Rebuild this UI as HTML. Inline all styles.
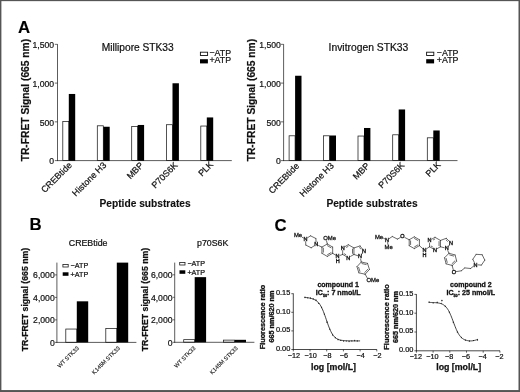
<!DOCTYPE html>
<html><head><meta charset="utf-8"><title>Figure</title>
<style>
html,body{margin:0;padding:0;background:#fff;}
svg{display:block;font-family:"Liberation Sans", Arial, Helvetica, sans-serif;}
#fig{filter:blur(0.35px);}
</style></head><body>
<svg width="520" height="392" viewBox="0 0 520 392">
<rect x="0" y="0" width="520" height="392" fill="#555"/>
<rect x="1.4" y="1.15" width="517.1" height="388.9" fill="#fff"/>
<g id="fig">
<text x="18" y="32.7" font-size="16.8" font-weight="bold" text-anchor="start" fill="#000" stroke="#000" stroke-width="0.12">A</text>
<text x="29.6" y="230.2" font-size="16.8" font-weight="bold" text-anchor="start" fill="#000" stroke="#000" stroke-width="0.12">B</text>
<text x="274.6" y="231.2" font-size="16.8" font-weight="bold" text-anchor="start" fill="#000" stroke="#000" stroke-width="0.12">C</text>
<rect x="62.80" y="121.39" width="6.00" height="39.21" fill="#fff" stroke="#1a1a1a" stroke-width="0.75"/>
<rect x="68.80" y="93.96" width="6.40" height="67.04" fill="#000"/>
<text x="72.4" y="165.8" font-size="8.9" text-anchor="end" fill="#111" transform="rotate(-45 72.4 165.8)" stroke="#111" stroke-width="0.22">CREBtide</text>
<rect x="97.30" y="125.80" width="6.00" height="34.79" fill="#fff" stroke="#1a1a1a" stroke-width="0.75"/>
<rect x="103.30" y="126.75" width="6.40" height="34.26" fill="#000"/>
<text x="106.9" y="165.8" font-size="8.9" text-anchor="end" fill="#111" transform="rotate(-45 106.9 165.8)" stroke="#111" stroke-width="0.22">Histone H3</text>
<rect x="131.70" y="126.42" width="6.00" height="34.17" fill="#fff" stroke="#1a1a1a" stroke-width="0.75"/>
<rect x="137.70" y="124.96" width="6.40" height="36.04" fill="#000"/>
<text x="144.0" y="165.8" font-size="8.9" text-anchor="end" fill="#111" transform="rotate(-45 144.0 165.8)" stroke="#111" stroke-width="0.22">MBP</text>
<rect x="166.50" y="124.72" width="6.00" height="35.88" fill="#fff" stroke="#1a1a1a" stroke-width="0.75"/>
<rect x="172.50" y="83.27" width="6.40" height="77.73" fill="#000"/>
<text x="178.2" y="165.8" font-size="8.9" text-anchor="end" fill="#111" transform="rotate(-45 178.2 165.8)" stroke="#111" stroke-width="0.22">P70S6K</text>
<rect x="200.80" y="126.04" width="6.00" height="34.56" fill="#fff" stroke="#1a1a1a" stroke-width="0.75"/>
<rect x="206.80" y="117.44" width="6.40" height="43.55" fill="#000"/>
<text x="213.8" y="165.0" font-size="8.9" text-anchor="end" fill="#111" transform="rotate(-45 213.8 165.0)" stroke="#111" stroke-width="0.22">PLK</text>
<line x1="57.5" y1="44.2" x2="57.5" y2="161.0" stroke="#1c1c1c" stroke-width="0.72"/>
<line x1="57.1" y1="160.6" x2="231.8" y2="160.6" stroke="#1c1c1c" stroke-width="0.72"/>
<line x1="54.8" y1="160.6" x2="57.5" y2="160.6" stroke="#1c1c1c" stroke-width="0.65"/>
<text transform="translate(54.1 164.3) scale(0.92 1)" font-size="9.4" text-anchor="end" fill="#111" stroke="#111" stroke-width="0.22">0</text>
<line x1="54.8" y1="121.85" x2="57.5" y2="121.85" stroke="#1c1c1c" stroke-width="0.65"/>
<text transform="translate(54.1 125.5) scale(0.92 1)" font-size="9.4" text-anchor="end" fill="#111" stroke="#111" stroke-width="0.22">500</text>
<line x1="54.8" y1="83.1" x2="57.5" y2="83.1" stroke="#1c1c1c" stroke-width="0.65"/>
<text transform="translate(54.1 86.8) scale(0.92 1)" font-size="9.4" text-anchor="end" fill="#111" stroke="#111" stroke-width="0.22">1,000</text>
<line x1="54.8" y1="44.35" x2="57.5" y2="44.35" stroke="#1c1c1c" stroke-width="0.65"/>
<text transform="translate(54.1 48.1) scale(0.92 1)" font-size="9.4" text-anchor="end" fill="#111" stroke="#111" stroke-width="0.22">1,500</text>
<text x="101.8" y="50.6" font-size="10.2" text-anchor="start" fill="#111" stroke="#111" stroke-width="0.22">Millipore STK33</text>
<rect x="200.40" y="52.20" width="7.20" height="3.30" fill="#fff" stroke="#111" stroke-width="0.9"/>
<rect x="200.00" y="59.20" width="7.90" height="4.20" fill="#000"/>
<text transform="translate(209.4 55.8) scale(0.93 1)" font-size="9.5" text-anchor="start" fill="#111" stroke="#111" stroke-width="0.22">−ATP</text>
<text transform="translate(209.4 63.3) scale(0.93 1)" font-size="9.5" text-anchor="start" fill="#111" stroke="#111" stroke-width="0.22">+ATP</text>
<text x="29.5" y="161.3" font-size="10.25" font-weight="bold" text-anchor="start" fill="#111" transform="rotate(-90 29.5 161.3)" stroke="#111" stroke-width="0.2">TR-FRET Signal (665 nm)</text>
<rect x="289.10" y="135.80" width="6.00" height="24.80" fill="#fff" stroke="#1a1a1a" stroke-width="0.75"/>
<rect x="295.10" y="75.75" width="6.40" height="85.25" fill="#000"/>
<text x="299.7" y="166.6" font-size="8.9" text-anchor="end" fill="#111" transform="rotate(-45 299.7 166.6)" stroke="#111" stroke-width="0.22">CREBtide</text>
<rect x="323.60" y="135.80" width="6.00" height="24.80" fill="#fff" stroke="#1a1a1a" stroke-width="0.75"/>
<rect x="329.60" y="135.50" width="6.40" height="25.50" fill="#000"/>
<text x="334.4" y="166.3" font-size="8.9" text-anchor="end" fill="#111" transform="rotate(-45 334.4 166.3)" stroke="#111" stroke-width="0.22">Histone H3</text>
<rect x="358.00" y="136.04" width="6.00" height="24.57" fill="#fff" stroke="#1a1a1a" stroke-width="0.75"/>
<rect x="364.00" y="127.98" width="6.40" height="33.02" fill="#000"/>
<text x="370.2" y="166.3" font-size="8.9" text-anchor="end" fill="#111" transform="rotate(-45 370.2 166.3)" stroke="#111" stroke-width="0.22">MBP</text>
<rect x="392.70" y="134.80" width="6.00" height="25.80" fill="#fff" stroke="#1a1a1a" stroke-width="0.75"/>
<rect x="398.70" y="109.46" width="6.40" height="51.54" fill="#000"/>
<text x="405.0" y="165.8" font-size="8.9" text-anchor="end" fill="#111" transform="rotate(-45 405.0 165.8)" stroke="#111" stroke-width="0.22">P70S6K</text>
<rect x="427.30" y="137.82" width="6.00" height="22.78" fill="#fff" stroke="#1a1a1a" stroke-width="0.75"/>
<rect x="433.30" y="130.47" width="6.40" height="30.54" fill="#000"/>
<text x="441.2" y="165.4" font-size="8.9" text-anchor="end" fill="#111" transform="rotate(-45 441.2 165.4)" stroke="#111" stroke-width="0.22">PLK</text>
<line x1="283.6" y1="44.2" x2="283.6" y2="161.0" stroke="#1c1c1c" stroke-width="0.72"/>
<line x1="283.20000000000005" y1="160.6" x2="457.5" y2="160.6" stroke="#1c1c1c" stroke-width="0.72"/>
<line x1="280.90000000000003" y1="160.6" x2="283.6" y2="160.6" stroke="#1c1c1c" stroke-width="0.65"/>
<text transform="translate(280.8 164.3) scale(0.92 1)" font-size="9.4" text-anchor="end" fill="#111" stroke="#111" stroke-width="0.22">0</text>
<line x1="280.90000000000003" y1="121.85" x2="283.6" y2="121.85" stroke="#1c1c1c" stroke-width="0.65"/>
<text transform="translate(280.8 125.5) scale(0.92 1)" font-size="9.4" text-anchor="end" fill="#111" stroke="#111" stroke-width="0.22">500</text>
<line x1="280.90000000000003" y1="83.1" x2="283.6" y2="83.1" stroke="#1c1c1c" stroke-width="0.65"/>
<text transform="translate(280.8 86.8) scale(0.92 1)" font-size="9.4" text-anchor="end" fill="#111" stroke="#111" stroke-width="0.22">1,000</text>
<line x1="280.90000000000003" y1="44.35" x2="283.6" y2="44.35" stroke="#1c1c1c" stroke-width="0.65"/>
<text transform="translate(280.8 48.1) scale(0.92 1)" font-size="9.4" text-anchor="end" fill="#111" stroke="#111" stroke-width="0.22">1,500</text>
<text x="328.6" y="50.6" font-size="10.32" text-anchor="start" fill="#111" stroke="#111" stroke-width="0.22">Invitrogen STK33</text>
<rect x="426.60" y="52.20" width="7.20" height="3.30" fill="#fff" stroke="#111" stroke-width="0.9"/>
<rect x="426.20" y="59.20" width="7.90" height="4.20" fill="#000"/>
<text transform="translate(436.8 55.8) scale(0.93 1)" font-size="9.5" text-anchor="start" fill="#111" stroke="#111" stroke-width="0.22">−ATP</text>
<text transform="translate(436.8 63.3) scale(0.93 1)" font-size="9.5" text-anchor="start" fill="#111" stroke="#111" stroke-width="0.22">+ATP</text>
<text x="255.0" y="161.3" font-size="10.25" font-weight="bold" text-anchor="start" fill="#111" transform="rotate(-90 255.0 161.3)" stroke="#111" stroke-width="0.2">TR-FRET Signal (665 nm)</text>
<text x="99.5" y="207.3" font-size="10.2" font-weight="bold" text-anchor="start" fill="#111" stroke="#111" stroke-width="0.12">Peptide substrates</text>
<text x="326.4" y="207.3" font-size="10.2" font-weight="bold" text-anchor="start" fill="#111" stroke="#111" stroke-width="0.12">Peptide substrates</text>
<rect x="65.80" y="329.05" width="11.00" height="13.25" fill="#fff" stroke="#1a1a1a" stroke-width="0.75"/>
<rect x="76.80" y="301.32" width="11.40" height="41.17" fill="#000"/>
<text x="79.4" y="348.6" font-size="5.7" text-anchor="end" fill="#222" transform="rotate(-45 79.4 348.6)" stroke="#222" stroke-width="0.12">WT STK33</text>
<rect x="105.80" y="328.62" width="11.00" height="13.67" fill="#fff" stroke="#1a1a1a" stroke-width="0.75"/>
<rect x="116.80" y="262.62" width="11.40" height="79.88" fill="#000"/>
<text x="120.4" y="348.6" font-size="5.7" text-anchor="end" fill="#222" transform="rotate(-45 120.4 348.6)" stroke="#222" stroke-width="0.12">K145M STK33</text>
<line x1="56.900000000000006" y1="262.6" x2="56.900000000000006" y2="342.8" stroke="#1c1c1c" stroke-width="0.72"/>
<line x1="56.5" y1="342.4" x2="136.4" y2="342.4" stroke="#1c1c1c" stroke-width="0.72"/>
<line x1="55.0" y1="342.4" x2="56.900000000000006" y2="342.4" stroke="#1c1c1c" stroke-width="0.65"/>
<text transform="translate(54.7 345.7) scale(0.94 1)" font-size="9.2" text-anchor="end" fill="#111" stroke="#111" stroke-width="0.22">0</text>
<line x1="55.0" y1="319.9" x2="56.900000000000006" y2="319.9" stroke="#1c1c1c" stroke-width="0.65"/>
<text transform="translate(54.7 323.2) scale(0.94 1)" font-size="9.2" text-anchor="end" fill="#111" stroke="#111" stroke-width="0.22">2,000</text>
<line x1="55.0" y1="297.4" x2="56.900000000000006" y2="297.4" stroke="#1c1c1c" stroke-width="0.65"/>
<text transform="translate(54.7 300.7) scale(0.94 1)" font-size="9.2" text-anchor="end" fill="#111" stroke="#111" stroke-width="0.22">4,000</text>
<line x1="55.0" y1="274.9" x2="56.900000000000006" y2="274.9" stroke="#1c1c1c" stroke-width="0.65"/>
<text transform="translate(54.7 278.2) scale(0.94 1)" font-size="9.2" text-anchor="end" fill="#111" stroke="#111" stroke-width="0.22">6,000</text>
<text x="68.8" y="245.5" font-size="8.8" text-anchor="start" fill="#111" stroke="#111" stroke-width="0.22">CREBtide</text>
<rect x="62.90" y="264.50" width="5.30" height="2.50" fill="#fff" stroke="#1a1a1a" stroke-width="0.8"/>
<rect x="62.70" y="272.30" width="5.80" height="3.50" fill="#000"/>
<text x="70.6" y="268.2" font-size="7.2" text-anchor="start" fill="#111" stroke="#111" stroke-width="0.22">−ATP</text>
<text x="70.6" y="276.6" font-size="7.2" text-anchor="start" fill="#111" stroke="#111" stroke-width="0.22">+ATP</text>
<text x="28.3" y="351.3" font-size="8.75" font-weight="bold" text-anchor="start" fill="#111" transform="rotate(-90 28.3 351.3)" stroke="#111" stroke-width="0.25">TR-FRET signal (665 nm)</text>
<rect x="183.70" y="339.66" width="11.00" height="2.54" fill="#fff" stroke="#1a1a1a" stroke-width="0.75"/>
<rect x="194.70" y="277.15" width="11.40" height="65.25" fill="#000"/>
<text x="196.0" y="348.6" font-size="5.7" text-anchor="end" fill="#222" transform="rotate(-45 196.0 348.6)" stroke="#222" stroke-width="0.12">WT STK33</text>
<rect x="223.60" y="340.11" width="11.00" height="2.09" fill="#fff" stroke="#1a1a1a" stroke-width="0.75"/>
<rect x="234.60" y="339.81" width="11.40" height="2.59" fill="#000"/>
<text x="238.3" y="348.6" font-size="5.7" text-anchor="end" fill="#222" transform="rotate(-45 238.3 348.6)" stroke="#222" stroke-width="0.12">K145M STK33</text>
<line x1="174.7" y1="262.6" x2="174.7" y2="342.7" stroke="#1c1c1c" stroke-width="0.72"/>
<line x1="174.3" y1="342.29999999999995" x2="254.4" y2="342.29999999999995" stroke="#1c1c1c" stroke-width="0.72"/>
<line x1="172.8" y1="342.29999999999995" x2="174.7" y2="342.29999999999995" stroke="#1c1c1c" stroke-width="0.65"/>
<text transform="translate(172.5 345.6) scale(0.94 1)" font-size="9.2" text-anchor="end" fill="#111" stroke="#111" stroke-width="0.22">0</text>
<line x1="172.8" y1="319.79999999999995" x2="174.7" y2="319.79999999999995" stroke="#1c1c1c" stroke-width="0.65"/>
<text transform="translate(172.5 323.1) scale(0.94 1)" font-size="9.2" text-anchor="end" fill="#111" stroke="#111" stroke-width="0.22">2,000</text>
<line x1="172.8" y1="297.29999999999995" x2="174.7" y2="297.29999999999995" stroke="#1c1c1c" stroke-width="0.65"/>
<text transform="translate(172.5 300.6) scale(0.94 1)" font-size="9.2" text-anchor="end" fill="#111" stroke="#111" stroke-width="0.22">4,000</text>
<line x1="172.8" y1="274.79999999999995" x2="174.7" y2="274.79999999999995" stroke="#1c1c1c" stroke-width="0.65"/>
<text transform="translate(172.5 278.1) scale(0.94 1)" font-size="9.2" text-anchor="end" fill="#111" stroke="#111" stroke-width="0.22">6,000</text>
<text x="197.0" y="245.5" font-size="8.8" text-anchor="start" fill="#111" stroke="#111" stroke-width="0.22">p70S6K</text>
<rect x="179.70" y="262.50" width="5.30" height="2.50" fill="#fff" stroke="#1a1a1a" stroke-width="0.8"/>
<rect x="179.50" y="270.30" width="5.80" height="3.50" fill="#000"/>
<text x="187.4" y="266.2" font-size="7.2" text-anchor="start" fill="#111" stroke="#111" stroke-width="0.22">−ATP</text>
<text x="187.4" y="274.6" font-size="7.2" text-anchor="start" fill="#111" stroke="#111" stroke-width="0.22">+ATP</text>
<text x="148.0" y="351.3" font-size="8.75" font-weight="bold" text-anchor="start" fill="#111" transform="rotate(-90 148.0 351.3)" stroke="#111" stroke-width="0.25">TR-FRET signal (665 nm)</text>
<line x1="293.3" y1="293.4" x2="293.3" y2="349.85" stroke="#1c1c1c" stroke-width="0.8"/>
<line x1="292.90000000000003" y1="349.5" x2="376.9" y2="349.5" stroke="#1c1c1c" stroke-width="0.8"/>
<line x1="291.3" y1="349.5" x2="293.3" y2="349.5" stroke="#1c1c1c" stroke-width="0.7"/>
<text x="290.3" y="350.8" font-size="7.4" text-anchor="end" fill="#111" stroke="#111" stroke-width="0.22">0.00</text>
<line x1="291.3" y1="330.9" x2="293.3" y2="330.9" stroke="#1c1c1c" stroke-width="0.7"/>
<text x="290.3" y="332.2" font-size="7.4" text-anchor="end" fill="#111" stroke="#111" stroke-width="0.22">0.05</text>
<line x1="291.3" y1="312.3" x2="293.3" y2="312.3" stroke="#1c1c1c" stroke-width="0.7"/>
<text x="290.3" y="313.6" font-size="7.4" text-anchor="end" fill="#111" stroke="#111" stroke-width="0.22">0.10</text>
<line x1="291.3" y1="293.7" x2="293.3" y2="293.7" stroke="#1c1c1c" stroke-width="0.7"/>
<text x="290.3" y="295.0" font-size="7.4" text-anchor="end" fill="#111" stroke="#111" stroke-width="0.22">0.15</text>
<line x1="293.3" y1="349.5" x2="293.3" y2="351.4" stroke="#1c1c1c" stroke-width="0.7"/>
<text x="293.9" y="357.9" font-size="7.25" text-anchor="middle" fill="#111" stroke="#111" stroke-width="0.22">−12</text>
<line x1="310.0" y1="349.5" x2="310.0" y2="351.4" stroke="#1c1c1c" stroke-width="0.7"/>
<text x="310.6" y="357.9" font-size="7.25" text-anchor="middle" fill="#111" stroke="#111" stroke-width="0.22">−10</text>
<line x1="326.7" y1="349.5" x2="326.7" y2="351.4" stroke="#1c1c1c" stroke-width="0.7"/>
<text x="327.3" y="357.9" font-size="7.25" text-anchor="middle" fill="#111" stroke="#111" stroke-width="0.22">−8</text>
<line x1="343.4" y1="349.5" x2="343.4" y2="351.4" stroke="#1c1c1c" stroke-width="0.7"/>
<text x="344.0" y="357.9" font-size="7.25" text-anchor="middle" fill="#111" stroke="#111" stroke-width="0.22">−6</text>
<line x1="360.1" y1="349.5" x2="360.1" y2="351.4" stroke="#1c1c1c" stroke-width="0.7"/>
<text x="360.7" y="357.9" font-size="7.25" text-anchor="middle" fill="#111" stroke="#111" stroke-width="0.22">−4</text>
<line x1="376.8" y1="349.5" x2="376.8" y2="351.4" stroke="#1c1c1c" stroke-width="0.7"/>
<text x="377.4" y="357.9" font-size="7.25" text-anchor="middle" fill="#111" stroke="#111" stroke-width="0.22">−2</text>
<text x="311.0" y="369.9" font-size="8.8" font-weight="bold" text-anchor="start" fill="#111" stroke="#111" stroke-width="0.25">log [mol/L]</text>
<text x="265.3" y="317.0" font-size="7.25" font-weight="bold" text-anchor="middle" fill="#111" transform="rotate(-90 265.3 317.0)" stroke="#111" stroke-width="0.3">Fluorescence ratio</text>
<text x="273.9" y="316.5" font-size="7.25" font-weight="bold" text-anchor="middle" fill="#111" transform="rotate(-90 273.9 316.5)" stroke="#111" stroke-width="0.3">665 nm/620 nm</text>
<text x="338.2" y="286.9" font-size="7.0" font-weight="bold" text-anchor="middle" fill="#111" stroke="#111" stroke-width="0.3">compound 1</text>
<text x="338.2" y="295.3" font-size="7.1" font-weight="bold" text-anchor="middle" fill="#111" stroke="#111" stroke-width="0.3">IC<tspan font-size="3.8" dy="2.0">50</tspan><tspan dy="-2.0">: 7 nmol/L</tspan></text>
<line x1="416.4" y1="294.09999999999997" x2="416.4" y2="351.15000000000003" stroke="#1c1c1c" stroke-width="0.8"/>
<line x1="416.0" y1="350.8" x2="500.0" y2="350.8" stroke="#1c1c1c" stroke-width="0.8"/>
<line x1="414.4" y1="350.8" x2="416.4" y2="350.8" stroke="#1c1c1c" stroke-width="0.7"/>
<text x="413.4" y="352.1" font-size="7.4" text-anchor="end" fill="#111" stroke="#111" stroke-width="0.22">0.00</text>
<line x1="414.4" y1="332.0" x2="416.4" y2="332.0" stroke="#1c1c1c" stroke-width="0.7"/>
<text x="413.4" y="333.3" font-size="7.4" text-anchor="end" fill="#111" stroke="#111" stroke-width="0.22">0.05</text>
<line x1="414.4" y1="313.2" x2="416.4" y2="313.2" stroke="#1c1c1c" stroke-width="0.7"/>
<text x="413.4" y="314.5" font-size="7.4" text-anchor="end" fill="#111" stroke="#111" stroke-width="0.22">0.10</text>
<line x1="414.4" y1="294.4" x2="416.4" y2="294.4" stroke="#1c1c1c" stroke-width="0.7"/>
<text x="413.4" y="295.7" font-size="7.4" text-anchor="end" fill="#111" stroke="#111" stroke-width="0.22">0.15</text>
<line x1="416.4" y1="350.8" x2="416.4" y2="352.7" stroke="#1c1c1c" stroke-width="0.7"/>
<text x="415.8" y="359.0" font-size="7.25" text-anchor="middle" fill="#111" stroke="#111" stroke-width="0.22">−12</text>
<line x1="433.09999999999997" y1="350.8" x2="433.09999999999997" y2="352.7" stroke="#1c1c1c" stroke-width="0.7"/>
<text x="432.5" y="359.0" font-size="7.25" text-anchor="middle" fill="#111" stroke="#111" stroke-width="0.22">−10</text>
<line x1="449.79999999999995" y1="350.8" x2="449.79999999999995" y2="352.7" stroke="#1c1c1c" stroke-width="0.7"/>
<text x="449.2" y="359.0" font-size="7.25" text-anchor="middle" fill="#111" stroke="#111" stroke-width="0.22">−8</text>
<line x1="466.5" y1="350.8" x2="466.5" y2="352.7" stroke="#1c1c1c" stroke-width="0.7"/>
<text x="465.9" y="359.0" font-size="7.25" text-anchor="middle" fill="#111" stroke="#111" stroke-width="0.22">−6</text>
<line x1="483.2" y1="350.8" x2="483.2" y2="352.7" stroke="#1c1c1c" stroke-width="0.7"/>
<text x="482.6" y="359.0" font-size="7.25" text-anchor="middle" fill="#111" stroke="#111" stroke-width="0.22">−4</text>
<line x1="499.9" y1="350.8" x2="499.9" y2="352.7" stroke="#1c1c1c" stroke-width="0.7"/>
<text x="499.3" y="359.0" font-size="7.25" text-anchor="middle" fill="#111" stroke="#111" stroke-width="0.22">−2</text>
<text x="436.2" y="370.1" font-size="8.8" font-weight="bold" text-anchor="start" fill="#111" stroke="#111" stroke-width="0.25">log [mol/L]</text>
<text x="389.1" y="316.9" font-size="7.36" font-weight="bold" text-anchor="middle" fill="#111" transform="rotate(-90 389.1 316.9)" stroke="#111" stroke-width="0.3">Fluorescence ratio</text>
<text x="397.9" y="317.0" font-size="7.25" font-weight="bold" text-anchor="middle" fill="#111" transform="rotate(-90 397.9 317.0)" stroke="#111" stroke-width="0.3">665 nm/620 nm</text>
<text x="470.8" y="286.9" font-size="7.0" font-weight="bold" text-anchor="middle" fill="#111" stroke="#111" stroke-width="0.3">compound 2</text>
<text x="470.8" y="295.3" font-size="7.1" font-weight="bold" text-anchor="middle" fill="#111" stroke="#111" stroke-width="0.3">IC<tspan font-size="3.8" dy="2.0">50</tspan><tspan dy="-2.0">: 25 nmol/L</tspan></text>
<path d="M304.99,297.37 L305.67,297.46 L306.36,297.55 L307.04,297.64 L307.72,297.74 L308.41,297.85 L309.09,297.97 L309.78,298.11 L310.46,298.26 L311.14,298.42 L311.83,298.61 L312.51,298.82 L313.19,299.06 L313.88,299.33 L314.56,299.65 L315.24,300.02 L315.93,300.44 L316.61,300.93 L317.30,301.50 L317.98,302.15 L318.66,302.90 L319.35,303.76 L320.03,304.74 L320.71,305.85 L321.40,307.10 L322.08,308.48 L322.77,310.01 L323.45,311.66 L324.13,313.44 L324.82,315.31 L325.50,317.26 L326.18,319.25 L326.87,321.25 L327.55,323.22 L328.23,325.13 L328.92,326.95 L329.60,328.66 L330.29,330.24 L330.97,331.68 L331.65,332.97 L332.34,334.12 L333.02,335.13 L333.70,336.02 L334.39,336.78 L335.07,337.43 L335.75,338.00 L336.44,338.47 L337.12,338.87 L337.81,339.21 L338.49,339.50 L339.17,339.74 L339.86,339.94 L340.54,340.10 L341.22,340.24 L341.91,340.36 L342.59,340.45 L343.27,340.53 L343.96,340.60 L344.64,340.65 L345.33,340.70 L346.01,340.74 L346.69,340.77 L347.38,340.79 L348.06,340.82 L348.74,340.83 L349.43,340.85 L350.11,340.86 L350.79,340.87 L351.48,340.88 L352.16,340.89 L352.85,340.89 L353.53,340.90 L354.21,340.90 L354.90,340.90 L355.58,340.91 L356.26,340.91 L356.95,340.91 L357.63,340.91 L358.32,340.91 L359.00,340.91 L359.68,340.91" fill="none" stroke="#111" stroke-width="0.8" stroke-linecap="round"/>
<circle cx="304.99" cy="297.42" r="0.6" fill="#111"/>
<line x1="304.99" y1="296.42" x2="304.99" y2="298.42" stroke="#333" stroke-width="0.35"/>
<circle cx="307.75" cy="297.80" r="0.6" fill="#111"/>
<circle cx="310.50" cy="298.08" r="0.6" fill="#111"/>
<line x1="310.50" y1="297.08" x2="310.50" y2="299.08" stroke="#333" stroke-width="0.35"/>
<circle cx="313.26" cy="298.89" r="0.6" fill="#111"/>
<circle cx="316.01" cy="300.18" r="0.6" fill="#111"/>
<line x1="316.01" y1="299.18" x2="316.01" y2="301.18" stroke="#333" stroke-width="0.35"/>
<circle cx="318.77" cy="303.42" r="0.6" fill="#111"/>
<circle cx="321.52" cy="307.50" r="0.6" fill="#111"/>
<line x1="321.52" y1="306.50" x2="321.52" y2="308.50" stroke="#333" stroke-width="0.35"/>
<circle cx="324.28" cy="314.00" r="0.6" fill="#111"/>
<circle cx="327.03" cy="322.17" r="0.6" fill="#111"/>
<line x1="327.03" y1="321.17" x2="327.03" y2="323.17" stroke="#333" stroke-width="0.35"/>
<circle cx="329.79" cy="329.08" r="0.6" fill="#111"/>
<circle cx="332.55" cy="334.82" r="0.6" fill="#111"/>
<line x1="332.55" y1="333.82" x2="332.55" y2="335.82" stroke="#333" stroke-width="0.35"/>
<circle cx="335.30" cy="337.69" r="0.6" fill="#111"/>
<circle cx="338.06" cy="339.56" r="0.6" fill="#111"/>
<line x1="338.06" y1="338.56" x2="338.06" y2="340.56" stroke="#333" stroke-width="0.35"/>
<circle cx="340.81" cy="340.42" r="0.6" fill="#111"/>
<circle cx="343.57" cy="340.99" r="0.6" fill="#111"/>
<line x1="343.57" y1="339.99" x2="343.57" y2="341.99" stroke="#333" stroke-width="0.35"/>
<circle cx="346.32" cy="341.02" r="0.6" fill="#111"/>
<circle cx="349.08" cy="341.33" r="0.6" fill="#111"/>
<line x1="349.08" y1="340.33" x2="349.08" y2="342.33" stroke="#333" stroke-width="0.35"/>
<circle cx="351.83" cy="340.93" r="0.6" fill="#111"/>
<circle cx="354.59" cy="340.56" r="0.6" fill="#111"/>
<line x1="354.59" y1="339.56" x2="354.59" y2="341.56" stroke="#333" stroke-width="0.35"/>
<circle cx="357.34" cy="340.93" r="0.6" fill="#111"/>
<path d="M429.12,302.44 L429.73,302.45 L430.34,302.46 L430.94,302.47 L431.55,302.49 L432.15,302.50 L432.76,302.53 L433.36,302.55 L433.97,302.58 L434.57,302.61 L435.18,302.65 L435.78,302.70 L436.39,302.75 L436.99,302.82 L437.60,302.89 L438.21,302.98 L438.81,303.09 L439.42,303.21 L440.02,303.36 L440.63,303.53 L441.23,303.73 L441.84,303.96 L442.44,304.23 L443.05,304.55 L443.65,304.91 L444.26,305.34 L444.86,305.82 L445.47,306.38 L446.08,307.02 L446.68,307.75 L447.29,308.57 L447.89,309.49 L448.50,310.51 L449.10,311.63 L449.71,312.86 L450.31,314.19 L450.92,315.60 L451.52,317.10 L452.13,318.65 L452.73,320.25 L453.34,321.88 L453.95,323.50 L454.55,325.10 L455.16,326.66 L455.76,328.15 L456.37,329.57 L456.97,330.89 L457.58,332.12 L458.18,333.25 L458.79,334.27 L459.39,335.18 L460.00,336.00 L460.60,336.73 L461.21,337.37 L461.82,337.93 L462.42,338.42 L463.03,338.84 L463.63,339.21 L464.24,339.52 L464.84,339.79 L465.45,340.03 L466.05,340.23 L466.66,340.40 L467.26,340.54 L467.87,340.67 L468.47,340.77 L469.08,340.85 L469.69,340.90 L470.29,340.92 L470.90,340.92 L471.50,340.89 L472.11,340.83 L472.71,340.76 L473.32,340.66 L473.92,340.55 L474.53,340.41 L475.13,340.26 L475.74,340.08 L476.34,339.89 L476.95,339.68 L477.56,339.45" fill="none" stroke="#111" stroke-width="0.8" stroke-linecap="round"/>
<circle cx="429.12" cy="302.08" r="0.6" fill="#111"/>
<line x1="429.12" y1="301.08" x2="429.12" y2="303.08" stroke="#333" stroke-width="0.35"/>
<circle cx="433.16" cy="302.90" r="0.6" fill="#111"/>
<circle cx="437.19" cy="302.45" r="0.6" fill="#111"/>
<line x1="437.19" y1="301.45" x2="437.19" y2="303.45" stroke="#333" stroke-width="0.35"/>
<circle cx="441.22" cy="303.23" r="0.6" fill="#111"/>
<circle cx="445.26" cy="306.32" r="0.6" fill="#111"/>
<line x1="445.26" y1="305.32" x2="445.26" y2="307.32" stroke="#333" stroke-width="0.35"/>
<circle cx="449.29" cy="312.06" r="0.6" fill="#111"/>
<circle cx="453.32" cy="322.25" r="0.6" fill="#111"/>
<line x1="453.32" y1="321.25" x2="453.32" y2="323.25" stroke="#333" stroke-width="0.35"/>
<circle cx="457.36" cy="332.08" r="0.6" fill="#111"/>
<circle cx="461.39" cy="337.50" r="0.6" fill="#111"/>
<line x1="461.39" y1="336.50" x2="461.39" y2="338.50" stroke="#333" stroke-width="0.35"/>
<circle cx="465.42" cy="340.05" r="0.6" fill="#111"/>
<circle cx="469.46" cy="341.02" r="0.6" fill="#111"/>
<line x1="469.46" y1="340.02" x2="469.46" y2="342.02" stroke="#333" stroke-width="0.35"/>
<circle cx="473.49" cy="340.48" r="0.6" fill="#111"/>
<circle cx="477.52" cy="339.89" r="0.6" fill="#111"/>
<line x1="477.52" y1="338.89" x2="477.52" y2="340.89" stroke="#333" stroke-width="0.35"/>
<circle cx="441.9" cy="300.6" r="0.8" fill="#222"/>
<line x1="314.03" y1="245.93" x2="311.18" y2="247.79" stroke="#2a2a2a" stroke-width="0.7" stroke-linecap="round"/>
<line x1="311.18" y1="247.79" x2="305.83" y2="245.09" stroke="#2a2a2a" stroke-width="0.7" stroke-linecap="round"/>
<line x1="305.83" y1="245.09" x2="305.64" y2="241.69" stroke="#2a2a2a" stroke-width="0.7" stroke-linecap="round"/>
<line x1="307.67" y1="237.67" x2="310.52" y2="235.81" stroke="#2a2a2a" stroke-width="0.7" stroke-linecap="round"/>
<line x1="310.52" y1="235.81" x2="315.87" y2="238.51" stroke="#2a2a2a" stroke-width="0.7" stroke-linecap="round"/>
<line x1="315.87" y1="238.51" x2="316.06" y2="241.91" stroke="#2a2a2a" stroke-width="0.7" stroke-linecap="round"/>
<text x="316.21" y="246.49" font-size="5.5" text-anchor="middle" fill="#181818" stroke="#181818" stroke-width="0.38">N</text>
<text x="305.49" y="241.07" font-size="5.5" text-anchor="middle" fill="#181818" stroke="#181818" stroke-width="0.38">N</text>
<text x="293.9" y="237.3" font-size="5.9" text-anchor="start" fill="#181818" stroke="#181818" stroke-width="0.3">Me</text>
<line x1="302.20" y1="237.30" x2="303.21" y2="237.85" stroke="#2a2a2a" stroke-width="0.7" stroke-linecap="round"/>
<line x1="327.30" y1="244.00" x2="332.67" y2="247.10" stroke="#2a2a2a" stroke-width="0.7" stroke-linecap="round"/>
<line x1="332.67" y1="247.10" x2="332.67" y2="253.30" stroke="#2a2a2a" stroke-width="0.7" stroke-linecap="round"/>
<line x1="332.67" y1="253.30" x2="327.30" y2="256.40" stroke="#2a2a2a" stroke-width="0.7" stroke-linecap="round"/>
<line x1="327.30" y1="256.40" x2="321.93" y2="253.30" stroke="#2a2a2a" stroke-width="0.7" stroke-linecap="round"/>
<line x1="321.93" y1="253.30" x2="321.93" y2="247.10" stroke="#2a2a2a" stroke-width="0.7" stroke-linecap="round"/>
<line x1="321.93" y1="247.10" x2="327.30" y2="244.00" stroke="#2a2a2a" stroke-width="0.7" stroke-linecap="round"/>
<line x1="327.55" y1="245.76" x2="331.02" y2="247.76" stroke="#2a2a2a" stroke-width="0.7" stroke-linecap="round"/>
<line x1="331.02" y1="252.64" x2="327.55" y2="254.64" stroke="#2a2a2a" stroke-width="0.7" stroke-linecap="round"/>
<line x1="323.33" y1="252.20" x2="323.33" y2="248.20" stroke="#2a2a2a" stroke-width="0.7" stroke-linecap="round"/>
<line x1="318.57" y1="245.58" x2="321.93" y2="247.10" stroke="#2a2a2a" stroke-width="0.7" stroke-linecap="round"/>
<text x="323.2" y="240.2" font-size="5.9" text-anchor="start" fill="#181818" stroke="#181818" stroke-width="0.3">OMe</text>
<line x1="327.30" y1="244.00" x2="326.51" y2="240.73" stroke="#2a2a2a" stroke-width="0.7" stroke-linecap="round"/>
<line x1="332.67" y1="253.30" x2="335.38" y2="254.95" stroke="#2a2a2a" stroke-width="0.7" stroke-linecap="round"/>
<text x="337.60" y="258.28" font-size="5.5" text-anchor="middle" fill="#181818" stroke="#181818" stroke-width="0.38">N</text>
<text x="337.70" y="263.38" font-size="5.5" text-anchor="middle" fill="#181818" stroke="#181818" stroke-width="0.38">H</text>
<line x1="348.30" y1="244.70" x2="353.93" y2="247.95" stroke="#2a2a2a" stroke-width="0.7" stroke-linecap="round"/>
<line x1="353.93" y1="247.95" x2="353.93" y2="254.45" stroke="#2a2a2a" stroke-width="0.7" stroke-linecap="round"/>
<line x1="353.93" y1="254.45" x2="350.55" y2="256.40" stroke="#2a2a2a" stroke-width="0.7" stroke-linecap="round"/>
<line x1="346.05" y1="256.40" x2="342.67" y2="254.45" stroke="#2a2a2a" stroke-width="0.7" stroke-linecap="round"/>
<line x1="342.67" y1="254.45" x2="342.67" y2="250.55" stroke="#2a2a2a" stroke-width="0.7" stroke-linecap="round"/>
<line x1="344.92" y1="246.65" x2="348.30" y2="244.70" stroke="#2a2a2a" stroke-width="0.7" stroke-linecap="round"/>
<line x1="346.58" y1="247.31" x2="348.05" y2="246.46" stroke="#2a2a2a" stroke-width="0.7" stroke-linecap="round"/>
<line x1="352.53" y1="249.05" x2="352.53" y2="253.35" stroke="#2a2a2a" stroke-width="0.7" stroke-linecap="round"/>
<line x1="345.80" y1="254.64" x2="344.32" y2="253.79" stroke="#2a2a2a" stroke-width="0.7" stroke-linecap="round"/>
<text x="348.30" y="259.68" font-size="5.5" text-anchor="middle" fill="#181818" stroke="#181818" stroke-width="0.38">N</text>
<text x="342.67" y="249.93" font-size="5.5" text-anchor="middle" fill="#181818" stroke="#181818" stroke-width="0.38">N</text>
<line x1="340.04" y1="255.41" x2="342.67" y2="254.45" stroke="#2a2a2a" stroke-width="0.7" stroke-linecap="round"/>
<line x1="353.93" y1="247.95" x2="360.08" y2="245.94" stroke="#2a2a2a" stroke-width="0.7" stroke-linecap="round"/>
<line x1="360.08" y1="245.94" x2="362.37" y2="249.10" stroke="#2a2a2a" stroke-width="0.7" stroke-linecap="round"/>
<line x1="362.37" y1="253.30" x2="361.61" y2="254.36" stroke="#2a2a2a" stroke-width="0.7" stroke-linecap="round"/>
<line x1="357.61" y1="255.65" x2="353.93" y2="254.45" stroke="#2a2a2a" stroke-width="0.7" stroke-linecap="round"/>
<line x1="359.67" y1="247.59" x2="360.67" y2="248.97" stroke="#2a2a2a" stroke-width="0.7" stroke-linecap="round"/>
<text x="363.90" y="253.18" font-size="5.5" text-anchor="middle" fill="#181818" stroke="#181818" stroke-width="0.38">N</text>
<text x="360.08" y="258.44" font-size="5.5" text-anchor="middle" fill="#181818" stroke="#181818" stroke-width="0.38">N</text>
<line x1="361.26" y1="262.00" x2="367.52" y2="263.37" stroke="#2a2a2a" stroke-width="0.7" stroke-linecap="round"/>
<line x1="367.52" y1="263.37" x2="369.45" y2="269.47" stroke="#2a2a2a" stroke-width="0.7" stroke-linecap="round"/>
<line x1="369.45" y1="269.47" x2="365.14" y2="274.20" stroke="#2a2a2a" stroke-width="0.7" stroke-linecap="round"/>
<line x1="365.14" y1="274.20" x2="358.88" y2="272.83" stroke="#2a2a2a" stroke-width="0.7" stroke-linecap="round"/>
<line x1="358.88" y1="272.83" x2="356.95" y2="266.73" stroke="#2a2a2a" stroke-width="0.7" stroke-linecap="round"/>
<line x1="356.95" y1="266.73" x2="361.26" y2="262.00" stroke="#2a2a2a" stroke-width="0.7" stroke-linecap="round"/>
<line x1="362.04" y1="263.60" x2="366.14" y2="264.51" stroke="#2a2a2a" stroke-width="0.7" stroke-linecap="round"/>
<line x1="367.68" y1="269.34" x2="364.84" y2="272.44" stroke="#2a2a2a" stroke-width="0.7" stroke-linecap="round"/>
<line x1="359.89" y1="271.35" x2="358.62" y2="267.35" stroke="#2a2a2a" stroke-width="0.7" stroke-linecap="round"/>
<line x1="360.62" y1="259.00" x2="361.26" y2="262.00" stroke="#2a2a2a" stroke-width="0.7" stroke-linecap="round"/>
<text x="366.4" y="282.0" font-size="5.9" text-anchor="start" fill="#181818" stroke="#181818" stroke-width="0.3">OMe</text>
<line x1="365.14" y1="274.20" x2="367.08" y2="277.65" stroke="#2a2a2a" stroke-width="0.7" stroke-linecap="round"/>
<text x="374.9" y="238.7" font-size="5.9" text-anchor="start" fill="#181818" stroke="#181818" stroke-width="0.3">Me</text>
<text x="384.6" y="248.9" font-size="5.9" text-anchor="start" fill="#181818" stroke="#181818" stroke-width="0.3">Me</text>
<text x="387.00" y="242.08" font-size="5.5" text-anchor="middle" fill="#181818" stroke="#181818" stroke-width="0.38">N</text>
<line x1="382.90" y1="237.80" x2="384.73" y2="238.83" stroke="#2a2a2a" stroke-width="0.7" stroke-linecap="round"/>
<line x1="387.56" y1="242.64" x2="388.00" y2="244.60" stroke="#2a2a2a" stroke-width="0.7" stroke-linecap="round"/>
<line x1="389.15" y1="238.64" x2="392.30" y2="236.50" stroke="#2a2a2a" stroke-width="0.7" stroke-linecap="round"/>
<line x1="392.30" y1="236.50" x2="397.40" y2="239.10" stroke="#2a2a2a" stroke-width="0.7" stroke-linecap="round"/>
<line x1="397.40" y1="239.10" x2="400.22" y2="237.55" stroke="#2a2a2a" stroke-width="0.7" stroke-linecap="round"/>
<text x="402.50" y="238.28" font-size="5.5" text-anchor="middle" fill="#181818" stroke="#181818" stroke-width="0.38">O</text>
<line x1="414.30" y1="236.80" x2="419.41" y2="239.75" stroke="#2a2a2a" stroke-width="0.7" stroke-linecap="round"/>
<line x1="419.41" y1="239.75" x2="419.41" y2="245.65" stroke="#2a2a2a" stroke-width="0.7" stroke-linecap="round"/>
<line x1="419.41" y1="245.65" x2="414.30" y2="248.60" stroke="#2a2a2a" stroke-width="0.7" stroke-linecap="round"/>
<line x1="414.30" y1="248.60" x2="409.19" y2="245.65" stroke="#2a2a2a" stroke-width="0.7" stroke-linecap="round"/>
<line x1="409.19" y1="245.65" x2="409.19" y2="239.75" stroke="#2a2a2a" stroke-width="0.7" stroke-linecap="round"/>
<line x1="409.19" y1="239.75" x2="414.30" y2="236.80" stroke="#2a2a2a" stroke-width="0.7" stroke-linecap="round"/>
<line x1="414.55" y1="238.56" x2="417.76" y2="240.41" stroke="#2a2a2a" stroke-width="0.7" stroke-linecap="round"/>
<line x1="417.76" y1="244.99" x2="414.55" y2="246.84" stroke="#2a2a2a" stroke-width="0.7" stroke-linecap="round"/>
<line x1="410.59" y1="244.55" x2="410.59" y2="240.85" stroke="#2a2a2a" stroke-width="0.7" stroke-linecap="round"/>
<line x1="404.81" y1="237.49" x2="409.19" y2="239.75" stroke="#2a2a2a" stroke-width="0.7" stroke-linecap="round"/>
<line x1="419.41" y1="245.65" x2="422.48" y2="248.45" stroke="#2a2a2a" stroke-width="0.7" stroke-linecap="round"/>
<text x="424.40" y="252.18" font-size="5.5" text-anchor="middle" fill="#181818" stroke="#181818" stroke-width="0.38">N</text>
<text x="424.40" y="257.18" font-size="5.5" text-anchor="middle" fill="#181818" stroke="#181818" stroke-width="0.38">H</text>
<line x1="435.00" y1="237.30" x2="440.46" y2="240.45" stroke="#2a2a2a" stroke-width="0.7" stroke-linecap="round"/>
<line x1="440.46" y1="240.45" x2="440.46" y2="246.75" stroke="#2a2a2a" stroke-width="0.7" stroke-linecap="round"/>
<line x1="440.46" y1="246.75" x2="437.25" y2="248.60" stroke="#2a2a2a" stroke-width="0.7" stroke-linecap="round"/>
<line x1="432.75" y1="248.60" x2="429.54" y2="246.75" stroke="#2a2a2a" stroke-width="0.7" stroke-linecap="round"/>
<line x1="429.54" y1="246.75" x2="429.54" y2="243.05" stroke="#2a2a2a" stroke-width="0.7" stroke-linecap="round"/>
<line x1="431.80" y1="239.15" x2="435.00" y2="237.30" stroke="#2a2a2a" stroke-width="0.7" stroke-linecap="round"/>
<line x1="433.45" y1="239.81" x2="434.75" y2="239.06" stroke="#2a2a2a" stroke-width="0.7" stroke-linecap="round"/>
<line x1="439.06" y1="241.55" x2="439.06" y2="245.65" stroke="#2a2a2a" stroke-width="0.7" stroke-linecap="round"/>
<line x1="432.50" y1="246.84" x2="431.20" y2="246.09" stroke="#2a2a2a" stroke-width="0.7" stroke-linecap="round"/>
<text x="435.00" y="251.88" font-size="5.5" text-anchor="middle" fill="#181818" stroke="#181818" stroke-width="0.38">N</text>
<text x="429.54" y="242.43" font-size="5.5" text-anchor="middle" fill="#181818" stroke="#181818" stroke-width="0.38">N</text>
<line x1="426.56" y1="248.75" x2="429.54" y2="246.75" stroke="#2a2a2a" stroke-width="0.7" stroke-linecap="round"/>
<line x1="440.46" y1="240.45" x2="446.30" y2="238.30" stroke="#2a2a2a" stroke-width="0.7" stroke-linecap="round"/>
<line x1="446.30" y1="238.30" x2="449.16" y2="241.16" stroke="#2a2a2a" stroke-width="0.7" stroke-linecap="round"/>
<line x1="449.38" y1="245.03" x2="448.32" y2="246.37" stroke="#2a2a2a" stroke-width="0.7" stroke-linecap="round"/>
<line x1="444.19" y1="247.74" x2="440.46" y2="246.75" stroke="#2a2a2a" stroke-width="0.7" stroke-linecap="round"/>
<line x1="446.16" y1="240.00" x2="447.46" y2="241.30" stroke="#2a2a2a" stroke-width="0.7" stroke-linecap="round"/>
<text x="451.00" y="244.98" font-size="5.5" text-anchor="middle" fill="#181818" stroke="#181818" stroke-width="0.38">N</text>
<text x="446.70" y="250.38" font-size="5.5" text-anchor="middle" fill="#181818" stroke="#181818" stroke-width="0.38">N</text>
<line x1="449.00" y1="253.31" x2="455.08" y2="254.97" stroke="#2a2a2a" stroke-width="0.7" stroke-linecap="round"/>
<line x1="455.08" y1="254.97" x2="456.68" y2="261.06" stroke="#2a2a2a" stroke-width="0.7" stroke-linecap="round"/>
<line x1="456.68" y1="261.06" x2="452.20" y2="265.49" stroke="#2a2a2a" stroke-width="0.7" stroke-linecap="round"/>
<line x1="452.20" y1="265.49" x2="446.12" y2="263.83" stroke="#2a2a2a" stroke-width="0.7" stroke-linecap="round"/>
<line x1="446.12" y1="263.83" x2="444.52" y2="257.74" stroke="#2a2a2a" stroke-width="0.7" stroke-linecap="round"/>
<line x1="444.52" y1="257.74" x2="449.00" y2="253.31" stroke="#2a2a2a" stroke-width="0.7" stroke-linecap="round"/>
<line x1="449.69" y1="254.95" x2="453.65" y2="256.03" stroke="#2a2a2a" stroke-width="0.7" stroke-linecap="round"/>
<line x1="454.91" y1="260.84" x2="452.00" y2="263.72" stroke="#2a2a2a" stroke-width="0.7" stroke-linecap="round"/>
<line x1="447.20" y1="262.41" x2="446.16" y2="258.45" stroke="#2a2a2a" stroke-width="0.7" stroke-linecap="round"/>
<line x1="447.80" y1="250.75" x2="449.00" y2="253.31" stroke="#2a2a2a" stroke-width="0.7" stroke-linecap="round"/>
<text x="453.80" y="273.98" font-size="5.5" text-anchor="middle" fill="#181818" stroke="#181818" stroke-width="0.38">O</text>
<line x1="452.20" y1="265.49" x2="453.18" y2="269.48" stroke="#2a2a2a" stroke-width="0.7" stroke-linecap="round"/>
<line x1="456.37" y1="271.59" x2="461.30" y2="270.80" stroke="#2a2a2a" stroke-width="0.7" stroke-linecap="round"/>
<line x1="461.30" y1="270.80" x2="464.80" y2="267.90" stroke="#2a2a2a" stroke-width="0.7" stroke-linecap="round"/>
<line x1="464.80" y1="267.90" x2="470.60" y2="268.50" stroke="#2a2a2a" stroke-width="0.7" stroke-linecap="round"/>
<line x1="474.31" y1="262.34" x2="472.81" y2="259.28" stroke="#2a2a2a" stroke-width="0.7" stroke-linecap="round"/>
<line x1="472.81" y1="259.28" x2="476.17" y2="254.31" stroke="#2a2a2a" stroke-width="0.7" stroke-linecap="round"/>
<line x1="476.17" y1="254.31" x2="482.16" y2="254.73" stroke="#2a2a2a" stroke-width="0.7" stroke-linecap="round"/>
<line x1="482.16" y1="254.73" x2="484.79" y2="260.12" stroke="#2a2a2a" stroke-width="0.7" stroke-linecap="round"/>
<line x1="484.79" y1="260.12" x2="481.43" y2="265.09" stroke="#2a2a2a" stroke-width="0.7" stroke-linecap="round"/>
<line x1="481.43" y1="265.09" x2="478.04" y2="264.86" stroke="#2a2a2a" stroke-width="0.7" stroke-linecap="round"/>
<text x="475.44" y="266.65" font-size="5.5" text-anchor="middle" fill="#181818" stroke="#181818" stroke-width="0.38">N</text>
<line x1="470.60" y1="268.50" x2="473.40" y2="266.29" stroke="#2a2a2a" stroke-width="0.7" stroke-linecap="round"/>
</g>
</svg>
</body></html>
